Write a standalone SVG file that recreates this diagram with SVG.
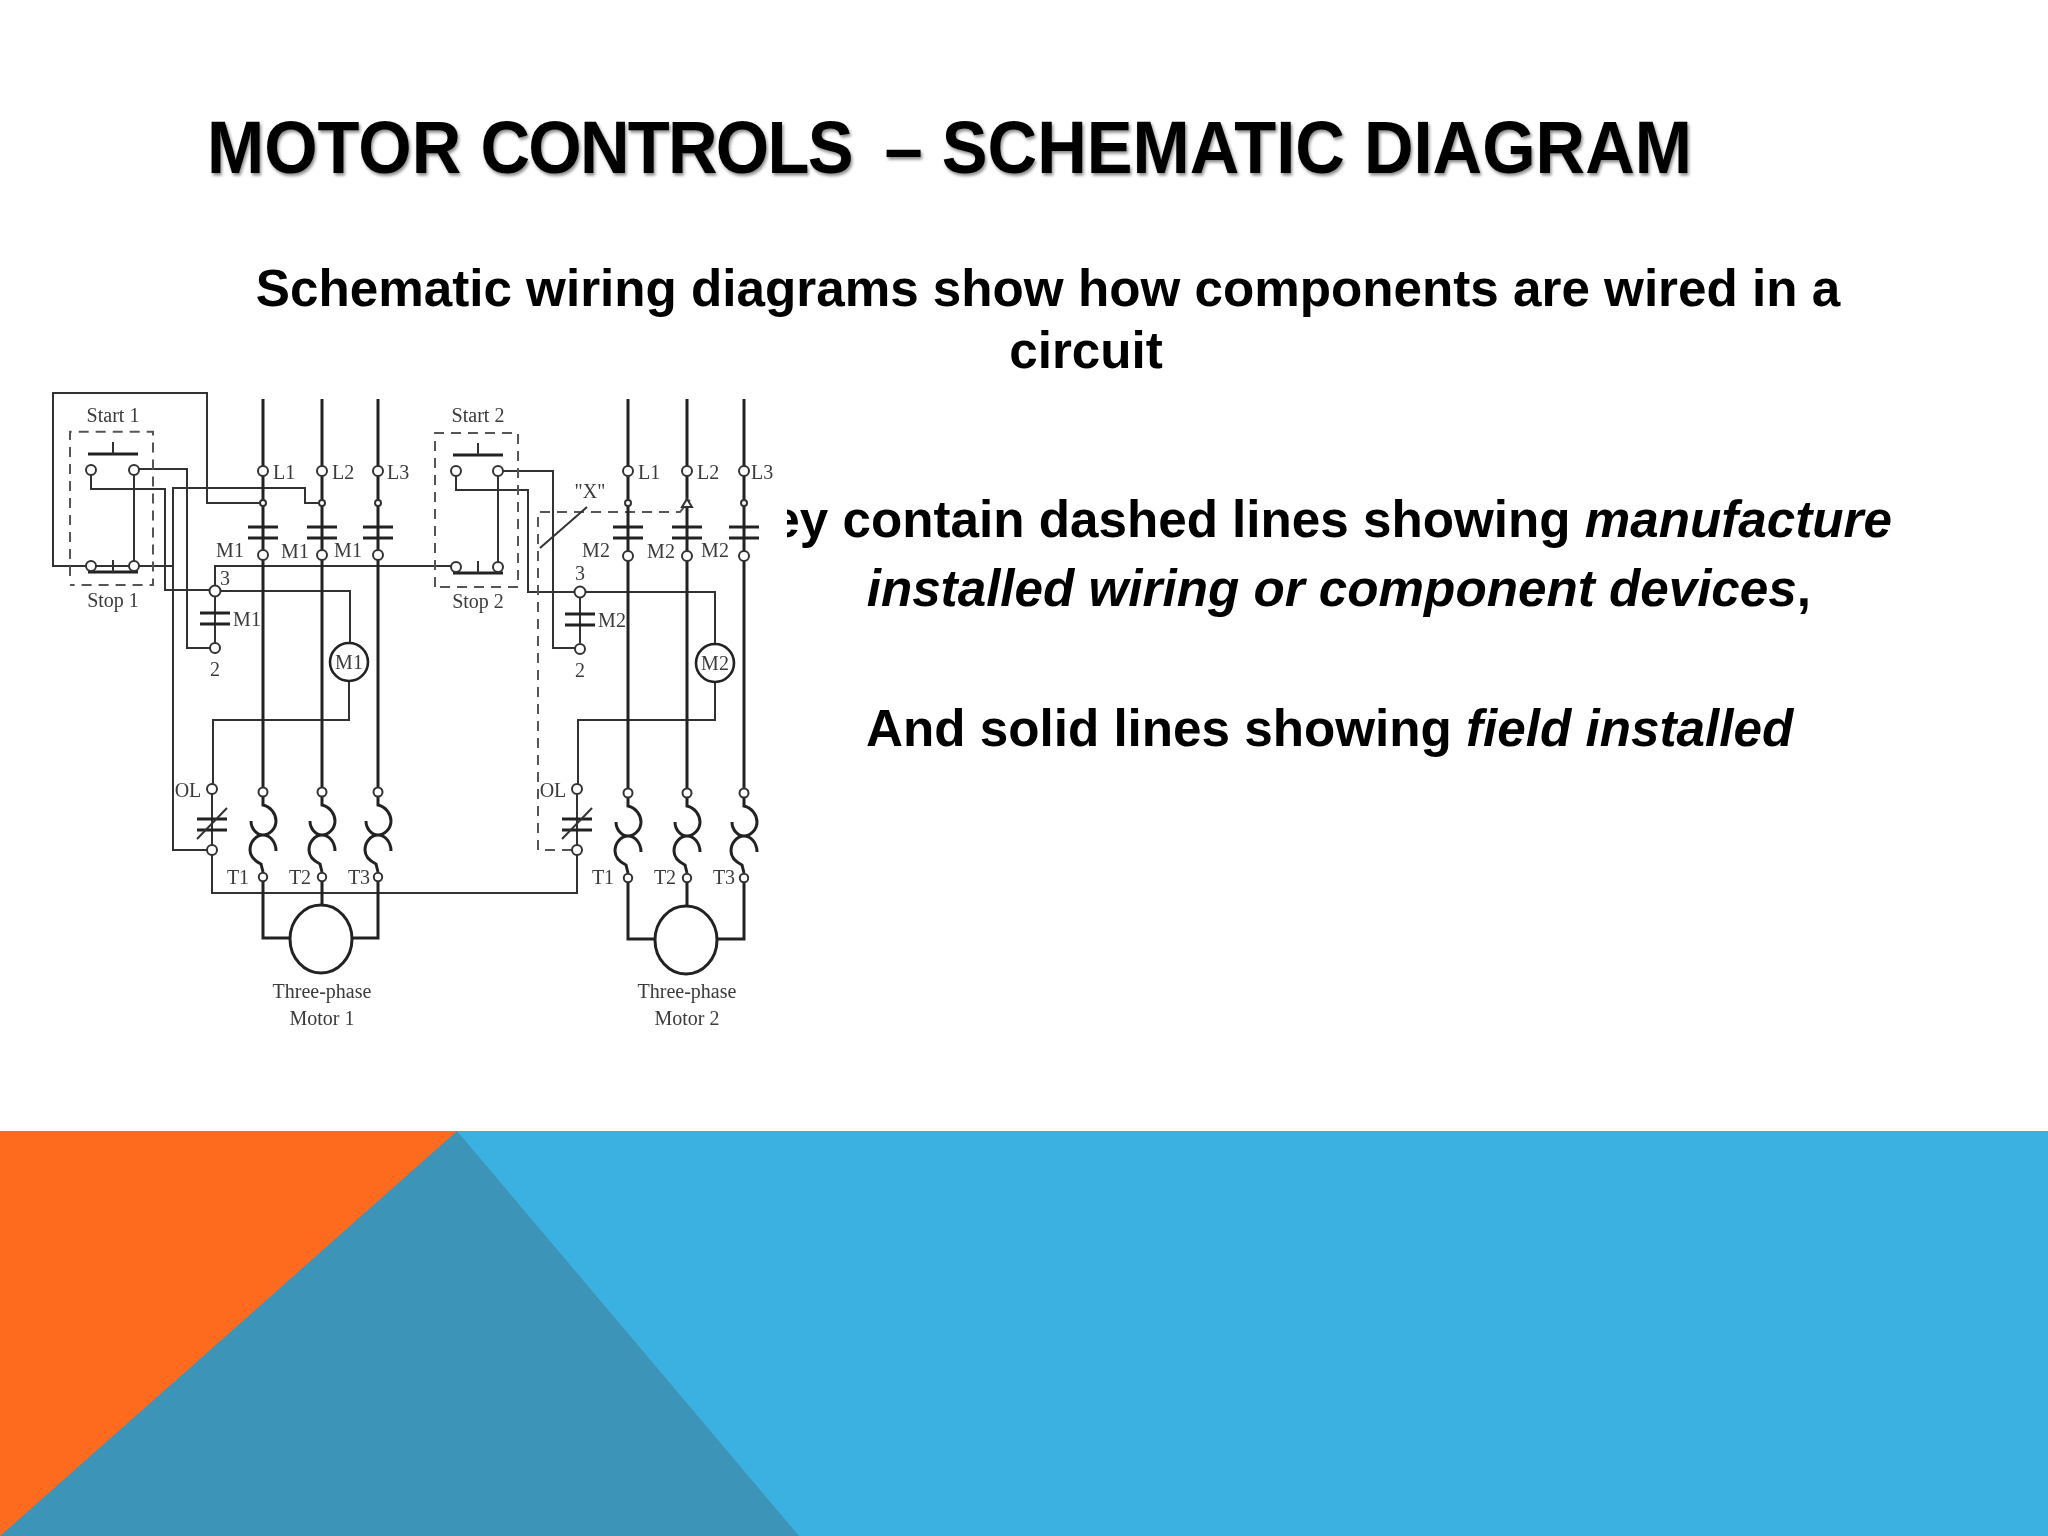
<svg xmlns="http://www.w3.org/2000/svg" xmlns:xlink="http://www.w3.org/1999/xlink" width="2048" height="1536" viewBox="0 0 2048 1536">
<style>
.w{fill:none;stroke:#333;stroke-width:2;stroke-linejoin:miter}
.p{fill:none;stroke:#222;stroke-width:3}
.d{fill:none;stroke:#555;stroke-width:2;stroke-dasharray:10 7}
.t{fill:#fff;stroke:#333;stroke-width:2}
.b{fill:none;stroke:#222;stroke-width:2.8}
.l{font-family:"Liberation Serif",serif;font-size:20px;fill:#3a3a3a;text-anchor:middle}
.ls{text-anchor:start}
.h{font-family:"Liberation Sans",Arial,sans-serif;font-weight:700;font-size:51.2px;fill:#000}
</style>
<defs>
<filter id="soft" x="-2%" y="-2%" width="104%" height="104%"><feGaussianBlur stdDeviation="0.7"/></filter>
<filter id="shadow" x="-2%" y="-20%" width="104%" height="150%"><feDropShadow dx="1.5" dy="2.5" stdDeviation="1.5" flood-color="#000" flood-opacity="0.45"/></filter>
<g id="therm">
<path class="p" d="M0,5L0,13C8,15 13,22 13,29C13,37 6,43 0,43C-6,43 -12,37 -12,29M0,43C7,43 13,50 13,59M0,43C-7,43 -13,50 -13,58C-13,66 -6,70 -2,72L0,80"/>
<circle class="t" cx="0" cy="0" r="4.5"/>
<circle class="t" cx="0" cy="85" r="4.2"/>
</g>
<g id="contact">
<path class="b" d="M-15,0H15M-15,11H15"/>
</g>
<g id="olc">
<path class="w" d="M0,-27V33"/>
<path class="b" d="M-15,0H15M-15,11H15"/>
<path class="w" d="M-15,20L15,-11"/>
<circle class="t" cx="0" cy="-30" r="5"/>
<circle class="t" cx="0" cy="31" r="5"/>
</g>
<g id="pb">
<path class="b" d="M-25,0H25"/>
<path class="w" d="M0,-12V0"/>
</g>
</defs>
<rect width="2048" height="1536" fill="#fff"/>
<g id="band">
<rect x="0" y="1131" width="2048" height="405" fill="#3bb1e1"/>
<polygon points="0,1131 457,1131 0,1536" fill="#fe6a1e"/>
<polygon points="457,1131 799,1536 0,1536" fill="#3d94b9"/>
</g>
<g id="title">
<text x="207" y="173" font-family="Liberation Sans,Arial,sans-serif" font-weight="700" font-size="75" textLength="1485" lengthAdjust="spacingAndGlyphs" fill="#000" filter="url(#shadow)">MOTOR <tspan letter-spacing="-1.9">CONTROLS</tspan> <tspan dx="15">–</tspan> SCHEMATIC DIAGRAM</text>
</g>
<g id="body">
<text class="h" x="1048" y="306" text-anchor="middle">Schematic wiring diagrams show how components are wired in a</text>
<text class="h" x="1086" y="368" text-anchor="middle">circuit</text>
<text class="h" x="1892" y="537" text-anchor="end">ey contain dashed lines showing <tspan font-style="italic">manufacture</tspan></text>
<text class="h" x="1811" y="606" text-anchor="end"><tspan font-style="italic">installed wiring or component devices</tspan>,</text>
<text class="h" x="866" y="746">And solid lines showing <tspan font-style="italic">field installed</tspan></text>
</g>
<rect id="picture" x="30" y="370" width="757" height="710" fill="#fff"/>
<g id="schematic" filter="url(#soft)">
<g id="connectors">
<path class="w" d="M172,566H53V393H207V503H263"/>
<path class="w" d="M91,471V489H165V590H210"/>
<path class="w" d="M138,469H187V648H210"/>
<path class="w" d="M134,471V562"/>
<path class="w" d="M207,850H173V488H305V503H322"/>
<path class="w" d="M215,585V566H452"/>
<path class="w" d="M221,591H350V643"/>
<path class="w" d="M349,681V720H213V784"/>
<path class="w" d="M212,854V893H577V854"/>
<path class="w" d="M456,476V490H528V592H575"/>
<path class="w" d="M503,471H553V648H575"/>
<path class="w" d="M498,476V562"/>
<path class="w" d="M585,592H715V643M715,682V720H578V784"/>
<path class="d" d="M572,850H538V512H680L690,500"/>
<path class="w" d="M540,548L587,507"/>
<path class="p" d="M263,399V793M322,399V793M378,399V793"/>
<path class="p" d="M628,399V793M687,399V793M744,399V793"/>
<path class="p" d="M263,877V938H290M322,877V906M378,877V938H352"/>
<path class="p" d="M628,877V939H656M687,877V906M744,877V939H716"/>
<path class="d" d="M70,576V431.7H153V585H70"/>
<path class="d" d="M435,587V433H518V587H435"/>
</g>
<g id="start1"><use xlink:href="#pb" x="113" y="454"/><circle class="t" cx="91" cy="470" r="5"/><circle class="t" cx="134" cy="470" r="5"/><text class="l" x="113" y="422">Start 1</text></g>
<g id="stop1"><use xlink:href="#pb" x="113" y="572"/><circle class="t" cx="91" cy="566" r="5"/><circle class="t" cx="134" cy="566" r="5"/><text class="l" x="113" y="607">Stop 1</text></g>
<g id="start2"><use xlink:href="#pb" x="478" y="455"/><circle class="t" cx="456" cy="471" r="5"/><circle class="t" cx="498" cy="471" r="5"/><text class="l" x="478" y="422">Start 2</text></g>
<g id="stop2"><use xlink:href="#pb" x="478" y="573"/><circle class="t" cx="456" cy="567" r="5"/><circle class="t" cx="498" cy="567" r="5"/><text class="l" x="478" y="608">Stop 2</text></g>
<g id="m1-main">
<circle class="t" cx="263" cy="471" r="5"/><circle class="t" cx="322" cy="471" r="5"/><circle class="t" cx="378" cy="471" r="5"/>
<circle class="t" cx="263" cy="503" r="3"/><circle class="t" cx="322" cy="503" r="3"/><circle class="t" cx="378" cy="503" r="3"/>
<use xlink:href="#contact" x="263" y="527"/><use xlink:href="#contact" x="322" y="527"/><use xlink:href="#contact" x="378" y="527"/>
<circle class="t" cx="263" cy="555" r="5"/><circle class="t" cx="322" cy="555" r="5"/><circle class="t" cx="378" cy="555" r="5"/>
<text class="l ls" x="273" y="479">L1</text><text class="l ls" x="332" y="479">L2</text><text class="l ls" x="387" y="479">L3</text>
<text class="l" x="230" y="557">M1</text><text class="l" x="295" y="558">M1</text><text class="l" x="348" y="557">M1</text>
</g>
<g id="m1-aux">
<path class="w" d="M215,596V643"/><use xlink:href="#contact" x="215" y="613"/>
<circle class="t" cx="215" cy="591" r="5.5"/><circle class="t" cx="215" cy="648" r="5"/>
<text class="l" x="225" y="585">3</text><text class="l" x="247" y="626">M1</text><text class="l" x="215" y="676">2</text>
</g>
<g id="m1-coil"><circle cx="349" cy="662" r="19" fill="#fff" stroke="#222" stroke-width="2.6"/><text class="l" x="349" y="669">M1</text></g>
<g id="ol1"><use xlink:href="#olc" x="212" y="819"/><text class="l" x="188" y="797">OL</text></g>
<g id="therm1"><use xlink:href="#therm" x="263" y="792"/><use xlink:href="#therm" x="322" y="792"/><use xlink:href="#therm" x="378" y="792"/>
<text class="l" x="238" y="884">T1</text><text class="l" x="300" y="884">T2</text><text class="l" x="359" y="884">T3</text></g>
<g id="motor1"><ellipse cx="321" cy="939" rx="31" ry="34" fill="#fff" stroke="#222" stroke-width="3"/><text class="l" x="322" y="998">Three-phase</text><text class="l" x="322" y="1025">Motor 1</text></g>
<g id="m2-main">
<circle class="t" cx="628" cy="471" r="5"/><circle class="t" cx="687" cy="471" r="5"/><circle class="t" cx="744" cy="471" r="5"/>
<circle class="t" cx="628" cy="503" r="3"/><path class="t" d="M687,499L692,507H682Z"/><circle class="t" cx="744" cy="503" r="3"/>
<use xlink:href="#contact" x="628" y="527"/><use xlink:href="#contact" x="687" y="527"/><use xlink:href="#contact" x="744" y="527"/>
<circle class="t" cx="628" cy="556" r="5"/><circle class="t" cx="687" cy="556" r="5"/><circle class="t" cx="744" cy="556" r="5"/>
<text class="l ls" x="638" y="479">L1</text><text class="l ls" x="697" y="479">L2</text><text class="l ls" x="751" y="479">L3</text>
<text class="l" x="596" y="557">M2</text><text class="l" x="661" y="558">M2</text><text class="l" x="715" y="557">M2</text>
</g>
<g id="m2-aux">
<path class="w" d="M580,597V643"/><use xlink:href="#contact" x="580" y="614"/>
<circle class="t" cx="580" cy="592" r="5.5"/><circle class="t" cx="580" cy="649" r="5"/>
<text class="l" x="580" y="580">3</text><text class="l" x="612" y="627">M2</text><text class="l" x="580" y="677">2</text>
</g>
<g id="m2-coil"><circle cx="715" cy="663" r="19" fill="#fff" stroke="#222" stroke-width="2.6"/><text class="l" x="715" y="670">M2</text></g>
<g id="ol2"><use xlink:href="#olc" x="577" y="819"/><text class="l" x="553" y="797">OL</text></g>
<g id="therm2"><use xlink:href="#therm" x="628" y="793"/><use xlink:href="#therm" x="687" y="793"/><use xlink:href="#therm" x="744" y="793"/>
<text class="l" x="603" y="884">T1</text><text class="l" x="665" y="884">T2</text><text class="l" x="724" y="884">T3</text></g>
<g id="motor2"><ellipse cx="686" cy="940" rx="31" ry="34" fill="#fff" stroke="#222" stroke-width="3"/><text class="l" x="687" y="998">Three-phase</text><text class="l" x="687" y="1025">Motor 2</text></g>
<g id="x-mark"><text class="l" x="590" y="498">"X"</text></g>
</g>
</svg>
